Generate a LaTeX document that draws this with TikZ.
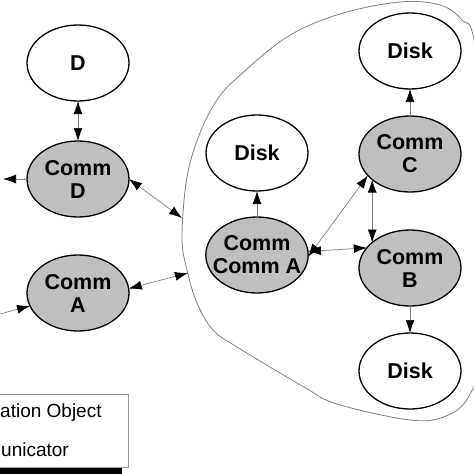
\documentclass[tikz,border=0pt]{standalone}
\usepackage{fontspec}
\setmainfont{Liberation Sans}
\usepackage{tikz}
\usetikzlibrary{shapes.geometric,arrows.meta}

\begin{document}
\begin{tikzpicture}[x=1pt,y=-1pt,
  >={Latex[length=13pt,width=9pt,color=black]},
  obj/.style={ellipse,draw,line width=1.3pt,minimum width=102pt,minimum height=76pt,
    inner xsep=-8pt,inner ysep=0pt,outer sep=0pt,align=center,font=\bfseries\fontsize{21.5}{23}\selectfont},
  comm/.style={obj,fill=black!25},
  link/.style={draw=black!50,line width=0.7pt}]
\clip (0,0) rectangle (474,474);
\draw[black!50,line width=0.8pt] plot[smooth cycle,tension=0.6] coordinates {
  (182,237) (187,177) (200,133) (217,100) (237,78) (287,37) (340,14) (400,2)
  (440,5) (462,20) (475,45) (494,200) (482,350) (469,396) (446,416) (410,420)
  (337,404) (304,387) (237,347) (213,330) (197,303) (187,270)};
\coordinate (edgeD) at (182,218);
\coordinate (edgeA) at (188,273);
\coordinate (outD) at (3,179);
\coordinate (inA) at (0,314);
\node[obj] (D) at (78,63) {D};
\node[comm] (CommD) at (78,179) {Comm\\D};
\node[comm] (CommA) at (78,293) {Comm\\A};
\node[obj] (DiskA) at (257,153) {Disk};
\node[comm] (CommCommA) at (257,255) {Comm\\Comm A};
\node[obj] (DiskC) at (410,51) {Disk};
\node[comm] (CommC) at (410,154) {Comm\\C};
\node[comm] (CommB) at (410,268) {Comm\\B};
\node[obj] (DiskB) at (410,371) {Disk};
\draw[link,<->] (D) -- (CommD);
\draw[link,->] (CommD) -- (outD);
\draw[link,<->] (CommD.east) -- (edgeD);
\draw[link,<->] (CommA.5) -- (edgeA);
\draw[link,->] (inA) -- (CommA.195);
\draw[link,->] (CommCommA) -- (DiskA);
\draw[link,->] (CommC) -- (DiskC);
\draw[link,->] (CommB) -- (DiskB);
\draw[link,<->] (CommC.214) -- (CommB.146);
\draw[link,<->] (CommC.207) -- (CommCommA.-2);
\draw[link,<->] (CommCommA.4) -- (CommB.155);
\draw[black!40,line width=0.8pt] (-5,394) rectangle (128,467);
\node[anchor=base west,inner sep=0pt,font=\fontsize{19}{21}\selectfont] (legObj) at (0,417) {ation Object};
\node[anchor=base west,inner sep=0pt,font=\fontsize{19}{21}\selectfont] (legComm) at (1,456) {unicator};
\fill (-5,468) rectangle (122,480);
\end{tikzpicture}
\end{document}
